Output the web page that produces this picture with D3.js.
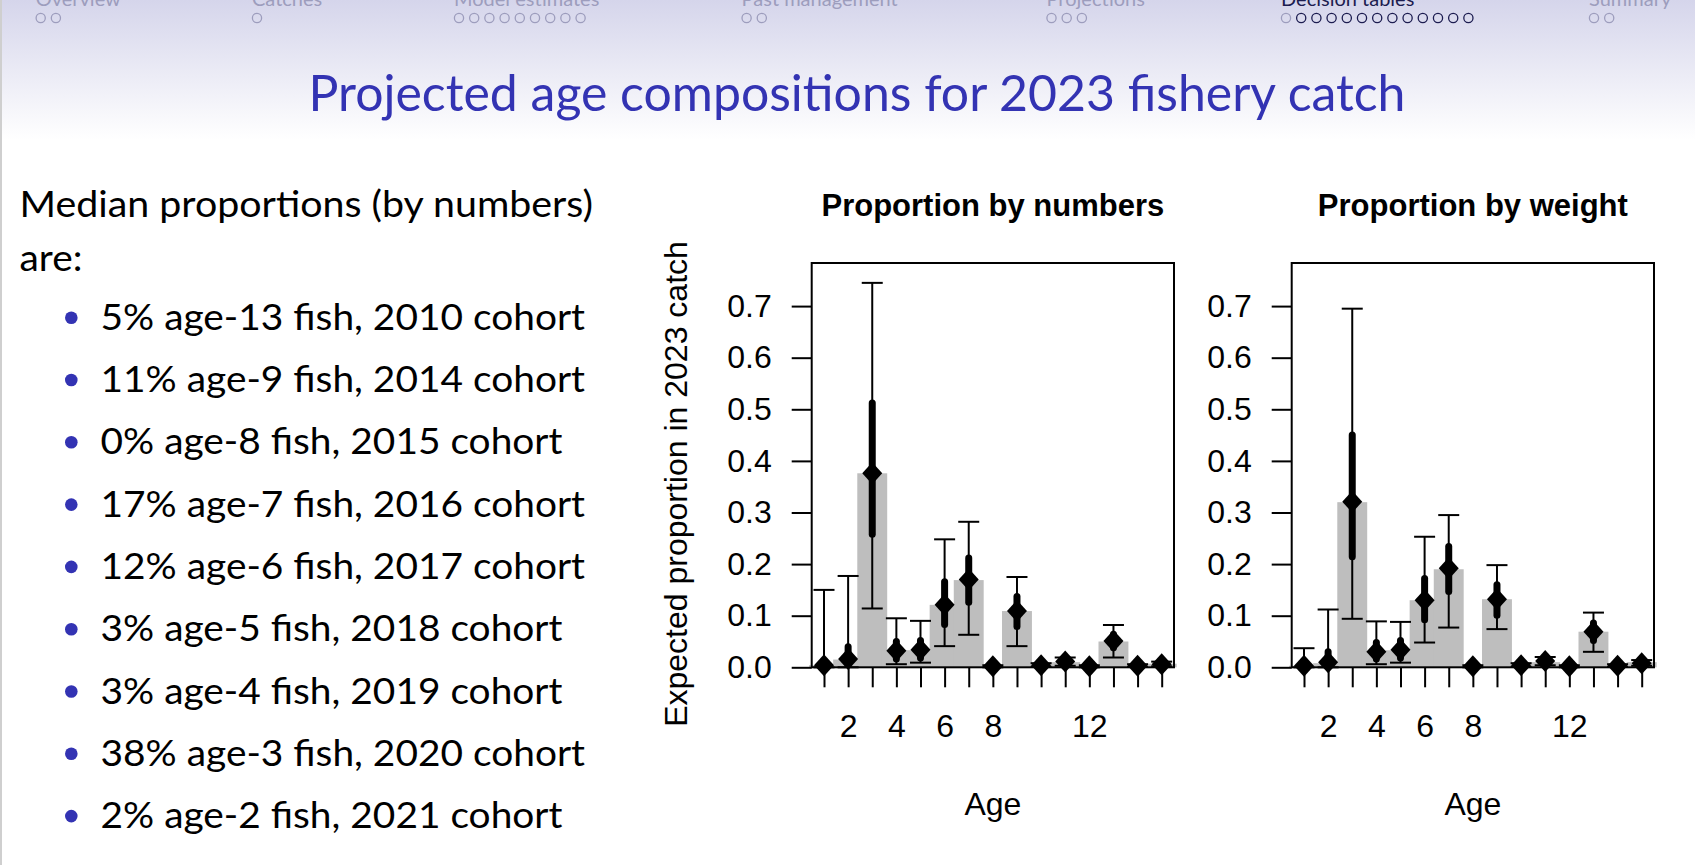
<!DOCTYPE html>
<html>
<head>
<meta charset="utf-8">
<script src="https://cdn.jsdelivr.net/npm/d3@7"></script>
<style>
  body{margin:0;background:#fff;}
  svg{display:block;}
</style>
</head>
<body>
<div class="slide"></div>
<script>
// ---- slide text ----
const sections=["Overview","Catches","Model estimates","Past management","Projections","Decision tables","Summary"];
const sectionDots=[2,1,9,2,3,13,2];
const activeSection=5;
const slideTitle="Projected age compositions for 2023 fishery catch";
const introLines=["Median proportions (by numbers)","are:"];
const bullets=[
  "5% age-13 fish, 2010 cohort",
  "11% age-9 fish, 2014 cohort",
  "0% age-8 fish, 2015 cohort",
  "17% age-7 fish, 2016 cohort",
  "12% age-6 fish, 2017 cohort",
  "3% age-5 fish, 2018 cohort",
  "3% age-4 fish, 2019 cohort",
  "38% age-3 fish, 2020 cohort",
  "2% age-2 fish, 2021 cohort"
];

// ---- chart data ----
const ages=[1,2,3,4,5,6,7,8,9,10,11,12,13,14,15];
const xTickLabels=[2,4,6,8,12];
const yTicks=[0,0.1,0.2,0.3,0.4,0.5,0.6,0.7];

// proportion by numbers
const numBar =[0.004,0.015,0.376,0.032,0.033,0.121,0.169,0.001,0.109,0.004,0.010,0.002,0.050,0.003,0.007];
const numMed =[0.004,0.016,0.376,0.032,0.034,0.121,0.170,0.002,0.109,0.004,0.011,0.002,0.051,0.003,0.006];
const numLo95=[0.000,0.000,0.114,0.006,0.009,0.041,0.063,0.000,0.041,0.001,0.003,0.000,0.019,0.001,0.002];
const numHi95=[0.150,0.177,0.745,0.095,0.090,0.248,0.282,0.004,0.175,0.008,0.019,0.004,0.082,0.006,0.011];
const numLo50=[0.001,0.005,0.258,0.016,0.018,0.083,0.126,0.001,0.079,0.002,0.007,0.001,0.038,0.002,0.004];
const numHi50=[0.012,0.040,0.512,0.050,0.052,0.166,0.212,0.003,0.137,0.006,0.014,0.003,0.064,0.004,0.008];

// proportion by weight
const wtBar =[0.003,0.008,0.320,0.030,0.033,0.130,0.190,0.001,0.132,0.004,0.010,0.002,0.069,0.003,0.010];
const wtMed =[0.003,0.010,0.321,0.030,0.034,0.130,0.192,0.002,0.132,0.004,0.012,0.002,0.069,0.003,0.008];
const wtLo95=[0.000,0.000,0.094,0.006,0.009,0.048,0.077,0.000,0.074,0.001,0.004,0.000,0.030,0.001,0.003];
const wtHi95=[0.037,0.112,0.695,0.089,0.088,0.253,0.295,0.004,0.198,0.008,0.020,0.004,0.106,0.006,0.014];
const wtLo50=[0.001,0.003,0.214,0.016,0.018,0.092,0.147,0.001,0.101,0.002,0.007,0.001,0.052,0.002,0.005];
const wtHi50=[0.008,0.030,0.450,0.048,0.052,0.172,0.234,0.003,0.160,0.006,0.016,0.003,0.086,0.004,0.011];

// ---- layout ----
const W=1695, H=865;
const navX=[35.7,252,454,741.6,1046.5,1281,1589];
const slideFont="Lato, 'Open Sans', sans-serif";
const plotFont="'Liberation Sans', Arial, sans-serif";
const blue="#3333b3";

const svg=d3.select(".slide").append("svg")
  .attr("width",W).attr("height",H);

// header gradient
const defs=svg.append("defs");
const grad=defs.append("linearGradient").attr("id","hdr")
  .attr("x1",0).attr("y1",0).attr("x2",0).attr("y2",1);
grad.append("stop").attr("offset","0%").attr("stop-color","#d5d5eb");
grad.append("stop").attr("offset","100%").attr("stop-color","#ffffff");
svg.append("rect").attr("x",0).attr("y",0).attr("width",W).attr("height",140).attr("fill","url(#hdr)");
svg.append("line").attr("x1",1).attr("x2",1).attr("y1",0).attr("y2",H)
  .attr("stroke","#cfcfcf").attr("stroke-width",2);

// navigation bar (top is cut off, as on the slide)
sections.forEach((s,i)=>{
  const active=i===activeSection;
  svg.append("text")
    .attr("x",navX[i]).attr("y",5.5)
    .attr("font-family",slideFont).attr("font-size",20)
    .attr("fill",active?"#1c1c50":"#9d9dbd")
    .text(s);
  for(let k=0;k<sectionDots[i];k++){
    svg.append("circle")
      .attr("cx",navX[i]+5+k*15.2).attr("cy",18).attr("r",4.6)
      .attr("fill","none").attr("stroke-width",1.3)
      .attr("stroke",active&&k>0?"#1c1c50":"#9d9dbd");
  }
});

// frame title
svg.append("text")
  .attr("x",857).attr("y",111).attr("text-anchor","middle")
  .attr("font-family",slideFont).attr("font-size",50).attr("fill",blue)
  .attr("textLength",1097).attr("lengthAdjust","spacingAndGlyphs")
  .text(slideTitle);

// left column
svg.append("text").attr("x",19.5).attr("y",217)
  .attr("font-family",slideFont).attr("font-size",37).attr("fill","#000")
  .attr("textLength",573.5).attr("lengthAdjust","spacingAndGlyphs")
  .text(introLines[0]);
const are=svg.append("text").attr("x",19.5).attr("y",271)
  .attr("font-family",slideFont).attr("font-size",37).attr("fill","#000")
  .text(introLines[1]);

const bulletTexts=bullets.map((b,i)=>{
  const by=329.7+i*62.3;
  svg.append("circle").attr("cx",71.3).attr("cy",by-12).attr("r",6.3).attr("fill",blue);
  return svg.append("text").attr("x",100.5).attr("y",by)
    .attr("font-family",slideFont).attr("font-size",37).attr("fill","#000")
    .text(b);
});
// squeeze the body text so its width matches the original sans face
const f=484.5/bulletTexts[0].node().getComputedTextLength();
bulletTexts.forEach(t=>{
  const w=t.node().getComputedTextLength();
  t.attr("textLength",w*f).attr("lengthAdjust","spacingAndGlyphs");
});
are.attr("textLength",are.node().getComputedTextLength()*f).attr("lengthAdjust","spacingAndGlyphs");

// ---- panels ----
const boxTop=263, boxBottom=667.3, boxW=362.3;
const y=d3.scaleLinear().domain([0,0.7835]).range([boxBottom,boxTop]);

function panel(left,title,bar,med,lo95,hi95,lo50,hi50){
  const x=d3.scaleLinear().domain([0.49,15.51]).range([left,left+boxW]);
  const g=svg.append("g");
  const rows=ages.map((a,i)=>({a,bar:bar[i],med:med[i],lo95:lo95[i],hi95:hi95[i],lo50:lo50[i],hi50:hi50[i]}));
  const bw=x(2.24)-x(1);

  g.selectAll(null).data(rows).enter().append("rect")
    .attr("x",d=>x(d.a)-bw/2).attr("width",bw)
    .attr("y",d=>y(d.bar)).attr("height",d=>y(0)-y(d.bar))
    .attr("fill","#bebebe");

  // 95% whiskers
  g.selectAll(null).data(rows).enter().append("line")
    .attr("x1",d=>x(d.a)).attr("x2",d=>x(d.a))
    .attr("y1",d=>y(d.lo95)).attr("y2",d=>y(d.hi95))
    .attr("stroke","#000").attr("stroke-width",2);
  ["lo95","hi95"].forEach(k=>{
    g.selectAll(null).data(rows).enter().append("line")
      .attr("x1",d=>x(d.a)-10.5).attr("x2",d=>x(d.a)+10.5)
      .attr("y1",d=>y(d[k])).attr("y2",d=>y(d[k]))
      .attr("stroke","#000").attr("stroke-width",2);
  });
  // 50% interval
  g.selectAll(null).data(rows).enter().append("line")
    .attr("x1",d=>x(d.a)).attr("x2",d=>x(d.a))
    .attr("y1",d=>y(d.lo50)).attr("y2",d=>y(d.hi50))
    .attr("stroke","#000").attr("stroke-width",7).attr("stroke-linecap","round");
  // medians
  g.selectAll(null).data(rows).enter().append("path")
    .attr("d","M0,-11L10,0L0,11L-10,0Z")
    .attr("transform",d=>`translate(${x(d.a)},${y(d.med)})`)
    .attr("fill","#000");

  g.append("rect").attr("x",left).attr("y",boxTop)
    .attr("width",boxW).attr("height",boxBottom-boxTop)
    .attr("fill","none").attr("stroke","#000").attr("stroke-width",2);

  const ya=g.append("g").attr("transform",`translate(${left},0)`)
    .call(d3.axisLeft(y).tickValues(yTicks).tickSize(20).tickPadding(20).tickFormat(d3.format(".1f")));
  ya.select(".domain").remove();
  ya.selectAll("line").attr("stroke-width",2);
  ya.selectAll("text").attr("font-family",plotFont).attr("font-size",32).attr("fill","#000");

  const xa=g.append("g").attr("transform",`translate(0,${boxBottom})`)
    .call(d3.axisBottom(x).tickValues(ages).tickSize(20)
      .tickFormat(d=>xTickLabels.includes(d)?String(d):""));
  xa.select(".domain").remove();
  xa.selectAll("line").attr("stroke-width",2);
  xa.selectAll("text").attr("y",69.4).attr("dy","0")
    .attr("font-family",plotFont).attr("font-size",32).attr("fill","#000");

  g.append("text").attr("x",left+boxW/2).attr("y",216).attr("text-anchor","middle")
    .attr("font-family",plotFont).attr("font-size",31).attr("font-weight","bold")
    .text(title);
  g.append("text").attr("x",left+boxW/2).attr("y",815).attr("text-anchor","middle")
    .attr("font-family",plotFont).attr("font-size",32)
    .text("Age");
}

panel(811.7,"Proportion by numbers",numBar,numMed,numLo95,numHi95,numLo50,numHi50);
panel(1291.7,"Proportion by weight",wtBar,wtMed,wtLo95,wtHi95,wtLo50,wtHi50);

svg.append("text")
  .attr("transform","translate(687,484) rotate(-90)")
  .attr("text-anchor","middle")
  .attr("font-family",plotFont).attr("font-size",32)
  .text("Expected proportion in 2023 catch");
</script>
</body>
</html>
